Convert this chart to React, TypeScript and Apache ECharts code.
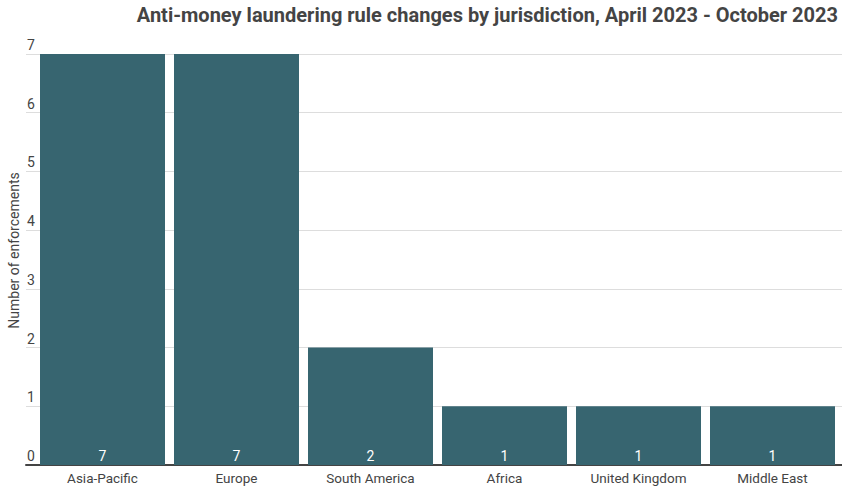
import { useEffect, useRef } from "react";
import * as echarts from "echarts";

const categories = ["Asia-Pacific", "Europe", "South America", "Africa", "United Kingdom", "Middle East"];
const enforcements = [7, 7, 2, 1, 1, 1];
const yTicks = [0, 1, 2, 3, 4, 5, 6, 7];

const TITLE = "Anti-money laundering rule changes by jurisdiction, April 2023 - October 2023";
const FONT = "Roboto, sans-serif";

export default function App() {
  const ref = useRef<HTMLDivElement | null>(null);

  useEffect(() => {
    if (!ref.current) return;
    const chart = echarts.init(ref.current, undefined, { renderer: "svg" });

    const option = {
      animation: false,
      backgroundColor: "#fff",
      textStyle: { fontFamily: FONT },
      title: {
        text: TITLE,
        right: 4,
        top: 5,
        padding: 0,
        textStyle: { fontFamily: FONT, fontSize: 20, fontWeight: "bold", color: "#444" }
      },
      grid: [
        // gridlines / axis line
        { left: 26, right: 0, top: 54, bottom: 27, outerBoundsMode: "none", containLabel: false },
        // bars
        { left: 35.5, right: 2.5, top: 54, bottom: 27, outerBoundsMode: "none", containLabel: false }
      ],
      xAxis: [
        {
          type: "category",
          gridIndex: 0,
          data: categories,
          axisLabel: { show: false },
          axisTick: { show: false },
          axisLine: { lineStyle: { color: "#444", width: 2 } }
        },
        {
          type: "category",
          gridIndex: 1,
          data: categories,
          axisTick: { show: false },
          axisLine: { show: false },
          axisLabel: { color: "#444", fontSize: 13.5, margin: 6, fontFamily: FONT }
        }
      ],
      yAxis: [
        {
          type: "value",
          gridIndex: 0,
          min: yTicks[0],
          max: yTicks[yTicks.length - 1],
          interval: 1,
          name: "Number of enforcements",
          nameLocation: "middle",
          nameGap: 5,
          nameMoveOverlap: false,
          nameTextStyle: { color: "#444", fontSize: 14, fontFamily: FONT, padding: [0, 0, 0, 18] },
          axisLine: { show: false },
          axisTick: { show: false },
          splitLine: { lineStyle: { color: "#ddd", width: 1 } },
          axisLabel: {
            inside: true,
            margin: 1,
            verticalAlign: "bottom",
            color: "#444",
            fontSize: 14,
            padding: [0, 0, 2, 0],
            fontFamily: FONT
          }
        },
        {
          type: "value",
          gridIndex: 1,
          min: yTicks[0],
          max: yTicks[yTicks.length - 1],
          interval: 1,
          show: false
        }
      ],
      series: [
        {
          type: "bar",
          name: "Enforcements",
          xAxisIndex: 1,
          yAxisIndex: 1,
          data: enforcements,
          barWidth: 125,
          itemStyle: { color: "#376570" },
          label: {
            show: true,
            position: "insideBottom",
            distance: 2,
            color: "#fff",
            fontSize: 14,
            fontFamily: FONT
          }
        }
      ]
    };

    chart.setOption(option as echarts.EChartsOption);
    return () => {
      chart.dispose();
    };
  }, []);

  return <div ref={ref} style={{ width: 842, height: 492, position: "absolute", left: 0, top: 0 }} />;
}
